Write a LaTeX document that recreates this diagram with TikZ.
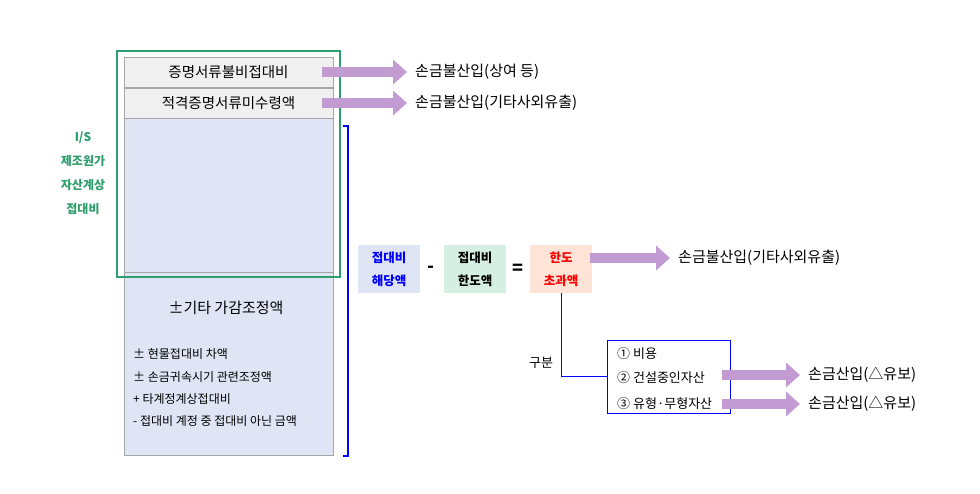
\documentclass[tikz,border=0pt]{standalone}
\usepackage{fontspec}
\setmainfont{Noto Sans CJK KR}
\usetikzlibrary{arrows.meta, positioning}
\definecolor{frameg}{HTML}{2E9E6E}
\definecolor{arrowp}{HTML}{C39BD3}
\definecolor{boxgray}{HTML}{F0F0F0}
\definecolor{boxblue}{HTML}{DFE5F5}
\definecolor{boxgreen}{HTML}{D5F0E3}
\definecolor{boxpeach}{HTML}{FDE4D6}
\tikzset{
  grayrow/.style = {rectangle, draw=gray!70, fill=boxgray, minimum width=209pt, minimum height=30pt, font=\fontsize{14.5}{16}\selectfont, inner sep=0pt},
  calcbox/.style = {rectangle, minimum width=62pt, minimum height=48pt, align=center, font=\bfseries\fontsize{12.5}{23}\selectfont, inner sep=0pt},
  fat/.style = {line width=10pt, arrowp, -{Triangle[length=14pt, width=24pt]}, shorten >=8pt},
  result/.style = {anchor=west, font=\fontsize{15}{17}\selectfont, inner sep=0pt},
  item/.style = {anchor=west, font=\fontsize{12}{14}\selectfont, inner sep=0pt},
}
\begin{document}
\begin{tikzpicture}[x=1pt, y=-1pt]
\useasboundingbox (0,0) rectangle (980,493);
% left column
\node (lower) [rectangle, draw=gray!70, fill=boxblue, minimum width=209pt, minimum height=337pt, inner sep=0pt] at (228.5,286.5) {};
\draw [gray!70] (124,272) -- (333,272);
\node (row1) [grayrow] at (228.5,72.5) {증명서류불비접대비};
\node (row2) [grayrow] at (228.5,103) {적격증명서류미수령액};
\draw [frameg, line width=2.5pt] (117,51) rectangle (340,277);
\node (islabel) [align=center, text=frameg, font=\bfseries\fontsize{12}{24}\selectfont] at (83,173) {I/S\\제조원가\\자산계상\\접대비};
\node (etc) [font=\fontsize{15}{17}\selectfont] at (226,308) {±기타 가감조정액};
\node (i1) [item] at (133,354) {± 현물접대비 차액};
\node (i2) [item] at (133,377) {± 손금귀속시기 관련조정액};
\node (i3) [item] at (133,399) {+ 타계정계상접대비};
\node (i4) [item] at (133,421) {- 접대비 계정 중 접대비 아닌 금액};
\draw [blue, line width=2pt] (343,126) -- (348,126) -- (348,456) -- (343,456);
% top arrows
\node (r1) [result] at (415,72) {손금불산입(상여 등)};
\node (r2) [result] at (415,103) {손금불산입(기타사외유출)};
\draw [fat] (322,72) -- (r1.west);
\draw [fat] (322,103) -- (r2.west);
% calculation
\node (amt) [calcbox, fill=boxblue, text=blue] at (389,269) {접대비\\해당액};
\node (minus) [font=\bfseries\fontsize{18}{18}\selectfont] at (431,269) {-};
\node (lim) [calcbox, fill=boxgreen] at (475,269) {접대비\\한도액};
\node (eq) [font=\bfseries\fontsize{18}{18}\selectfont] at (518,269) {=};
\node (over) [calcbox, fill=boxpeach, text=red] at (561,269) {한도\\초과액};
\node (r3) [result] at (678,258) {손금불산입(기타사외유출)};
\draw [fat] (590,258) -- (r3.west);
% split
\node (split) [rectangle, draw=blue, line width=1pt, minimum width=123pt, minimum height=73pt] at (668.5,376.5) {};
\node (s1) [item, font=\fontsize{13}{14}\selectfont] at (617,354) {① 비용};
\node (s2) [item, font=\fontsize{13}{14}\selectfont] at (617,378) {② 건설중인자산};
\node (s3) [item, font=\fontsize{13}{14}\selectfont] at (617,404) {③ 유형·무형자산};
\draw [blue, line width=1pt] (over.south) |- (split.west);
\node (gubun) [font=\fontsize{13}{14}\selectfont] at (541,363) {구분};
\node (r4) [result] at (808,375) {손금산입(△유보)};
\node (r5) [result] at (808,404) {손금산입(△유보)};
\draw [fat] (722,375) -- (r4.west);
\draw [fat] (722,404) -- (r5.west);
\end{tikzpicture}
\end{document}
